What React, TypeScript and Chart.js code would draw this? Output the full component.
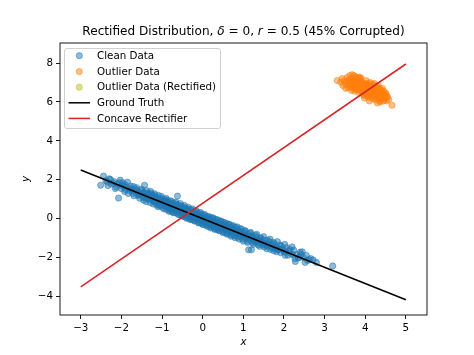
import React, { useEffect, useRef } from 'react';
import { Chart, registerables } from 'chart.js';

Chart.register(...registerables);

// ---------- data ----------
const cleanData: number[][] = [
  [-2.51, 1.72], [-2.44, 2.19], [-2.38, 1.95], [-2.30, 2.05], [-2.25, 1.78], [-2.20, 1.82], [-2.18, 1.90],
  [-2.12, 1.62], [-2.07, 1.06], [-2.05, 1.85], [-2.00, 1.55], [-1.98, 1.68], [-1.95, 1.72], [-1.92, 1.40],
  [-1.88, 1.60], [-1.85, 1.88], [-1.80, 1.45], [-1.76, 1.52], [-1.74, 1.45], [-1.72, 1.30], [-1.70, 1.65],
  [-1.66, 1.38], [-1.62, 1.48], [-1.60, 1.20], [-1.58, 1.30], [-1.57, 1.35], [-1.53, 1.28], [-1.50, 1.45],
  [-1.48, 1.22], [-1.47, 1.10], [-1.45, 0.95], [-1.43, 1.72], [-1.42, 1.25], [-1.40, 1.05], [-1.38, 1.45],
  [-1.37, 1.18], [-1.35, 1.32], [-1.34, 1.10], [-1.32, 0.98], [-1.30, 1.15], [-1.28, 1.40], [-1.27, 1.08],
  [-1.25, 1.22], [-1.24, 1.02], [-1.22, 0.92], [-1.20, 1.05], [-1.18, 0.85], [-1.18, 1.28], [-1.15, 1.12],
  [-1.14, 0.98], [-1.12, 0.95], [-1.10, 0.78], [-1.10, 0.62], [-1.08, 1.02], [-1.05, 0.88], [-1.04, 0.86],
  [-1.03, 0.70], [-1.02, 1.15], [-1.00, 0.95], [-0.98, 0.82], [-0.97, 0.80], [-0.96, 0.68], [-0.95, 0.50],
  [-0.94, 0.90], [-0.92, 0.75], [-0.91, 0.78], [-0.90, 0.60], [-0.90, 1.05], [-0.88, 0.85], [-0.86, 0.72],
  [-0.85, 0.70], [-0.84, 0.55], [-0.83, 0.38], [-0.82, 0.80], [-0.80, 0.66], [-0.79, 0.62], [-0.78, 0.50],
  [-0.78, 0.92], [-0.76, 0.75], [-0.74, 0.60], [-0.73, 0.65], [-0.72, 0.48], [-0.72, 0.30], [-0.70, 0.68],
  [-0.68, 0.55], [-0.67, 0.52], [-0.66, 0.40], [-0.66, 0.85], [-0.64, 0.62], [-0.62, 1.16], [-0.61, 0.48],
  [-0.60, 0.50], [-0.60, 0.22], [-0.58, 0.38], [-0.57, 0.50], [-0.56, 0.56], [-0.55, 0.78], [-0.54, 0.42],
  [-0.52, 0.30], [-0.51, 0.40], [-0.50, 0.52], [-0.50, 0.15], [-0.48, 0.40], [-0.47, 0.38], [-0.46, 0.25],
  [-0.45, 0.68], [-0.44, 0.45], [-0.43, 0.35], [-0.42, 0.32], [-0.40, 0.20], [-0.40, 0.02], [-0.38, 0.42],
  [-0.37, 0.32], [-0.36, 0.28], [-0.35, 0.58], [-0.34, 0.15], [-0.33, 0.25], [-0.32, 0.35], [-0.30, 0.22],
  [-0.30, -0.05], [-0.28, 0.10], [-0.27, 0.20], [-0.26, 0.30], [-0.25, 0.50], [-0.24, 0.18], [-0.23, 0.22],
  [-0.22, 0.05], [-0.20, 0.25], [-0.20, -0.12], [-0.18, 0.12], [-0.17, 0.16], [-0.16, 0.00], [-0.15, 0.40],
  [-0.14, 0.20], [-0.13, 0.10], [-0.12, 0.08], [-0.10, -0.05], [-0.10, -0.22], [-0.08, 0.15], [-0.07, 0.05],
  [-0.06, 0.02], [-0.05, 0.32], [-0.04, -0.10], [-0.03, 0.02], [-0.02, 0.10], [0.00, -0.02], [0.00, -0.30],
  [0.02, -0.15], [0.03, -0.02], [0.04, 0.05], [0.05, 0.22], [0.06, -0.08], [0.07, -0.05], [0.08, -0.20],
  [0.10, 0.00], [0.10, -0.38], [0.12, -0.12], [0.13, -0.10], [0.14, -0.25], [0.15, 0.12], [0.16, -0.05],
  [0.17, -0.15], [0.18, -0.18], [0.20, -0.30], [0.20, -0.48], [0.22, -0.10], [0.23, -0.18], [0.24, -0.22],
  [0.25, 0.05], [0.26, -0.35], [0.27, -0.22], [0.28, -0.15], [0.30, -0.28], [0.30, -0.55], [0.32, -0.40],
  [0.33, -0.28], [0.34, -0.20], [0.35, -0.05], [0.36, -0.32], [0.37, -0.30], [0.38, -0.45], [0.40, -0.25],
  [0.40, -0.62], [0.42, -0.38], [0.43, -0.35], [0.44, -0.50], [0.45, -0.12], [0.46, -0.30], [0.47, -0.40],
  [0.48, -0.42], [0.50, -0.55], [0.50, -0.72], [0.52, -0.35], [0.53, -0.45], [0.55, -0.48], [0.55, -0.22],
  [0.57, -0.48], [0.58, -0.60], [0.60, -0.40], [0.60, -0.80], [0.62, -0.52], [0.63, -0.52], [0.65, -0.28],
  [0.66, -0.68], [0.67, -0.55], [0.68, -0.45], [0.70, -0.90], [0.71, -0.60], [0.73, -0.62], [0.74, -0.75],
  [0.75, -0.35], [0.76, -0.52], [0.78, -0.65], [0.79, -0.66], [0.80, -0.98], [0.82, -0.80], [0.83, -0.70],
  [0.85, -0.58], [0.85, -0.42], [0.88, -0.72], [0.89, -0.75], [0.90, -1.05], [0.91, -0.88], [0.94, -0.65],
  [0.95, -0.52], [0.96, -0.82], [0.97, -0.80], [1.00, -0.95], [1.00, -1.15], [1.02, -0.85], [1.03, -0.72],
  [1.05, -0.62], [1.06, -0.88], [1.08, -0.92], [1.09, -1.02], [1.10, -1.22], [1.12, -0.80], [1.13, -1.60],
  [1.15, -0.95], [1.16, -0.98], [1.18, -1.10], [1.18, -0.70], [1.20, -1.60], [1.22, -0.88], [1.24, -1.05],
  [1.25, -1.05], [1.25, -1.32], [1.28, -1.18], [1.32, -0.95], [1.33, -0.80], [1.34, -1.12], [1.35, -1.12],
  [1.38, -1.25], [1.40, -1.42], [1.42, -1.02], [1.44, -1.20], [1.45, -1.20], [1.48, -1.35], [1.50, -0.92],
  [1.52, -1.10], [1.54, -1.30], [1.56, -1.28], [1.58, -1.55], [1.60, -1.42], [1.62, -1.35], [1.64, -1.18],
  [1.66, -1.05], [1.68, -1.38], [1.72, -1.52], [1.75, -1.65], [1.76, -1.28], [1.78, -1.50], [1.80, -1.45],
  [1.84, -1.18], [1.85, -1.60], [1.88, -1.55], [1.90, -1.35], [1.92, -1.75], [1.95, -1.55], [2.00, -1.70],
  [2.02, -1.32], [2.05, -1.72], [2.06, -1.48], [2.10, -1.88], [2.12, -1.65], [2.18, -1.80], [2.20, -1.45],
  [2.22, -1.85], [2.24, -1.62], [2.28, -2.20], [2.32, -1.85], [2.35, -2.02], [2.38, -1.98], [2.40, -1.72],
  [2.45, -1.70], [2.48, -2.00], [2.55, -1.88], [2.58, -2.15], [2.62, -2.10], [2.72, -2.12], [2.80, -2.25],
  [3.20, -2.43],
  [-2.33, 1.70], [-2.27, 2.02], [-2.15, 1.55], [-2.03, 1.98], [-1.97, 1.85], [-1.91, 1.75], [-1.83, 1.30],
  [-1.77, 1.68], [-1.69, 1.18], [-1.63, 1.60], [-1.55, 1.05], [-1.51, 1.52], [-1.44, 1.35], [-1.39, 0.88],
  [-1.33, 1.28], [-1.29, 0.82], [-1.26, 1.30], [-1.21, 0.75], [-1.17, 1.18], [-1.13, 0.72], [-1.09, 1.20],
  [-1.06, 0.66], [-1.01, 1.05], [-0.99, 0.58], [-0.93, 0.98], [-0.89, 0.48], [-0.87, 0.95], [-0.81, 0.42],
  [-0.77, 0.88], [-0.75, 0.36], [-0.71, 0.80], [-0.69, 0.32], [-0.65, 0.75], [-0.63, 0.28], [-0.59, 0.70],
  [-0.55, 0.18], [-0.53, 0.65], [-0.49, 0.12], [-0.47, 0.60], [-0.43, 0.10], [-0.41, 0.55], [-0.37, 0.05],
  [-0.35, 0.48], [-0.31, 0.00], [-0.29, 0.45], [-0.25, -0.05], [-0.21, 0.40], [-0.19, -0.10], [-0.15, 0.32],
  [-0.11, -0.18], [-0.09, 0.28], [-0.05, -0.22], [-0.01, 0.22], [0.01, -0.28], [0.05, 0.15], [0.09, -0.32],
  [0.11, 0.10], [0.15, -0.40], [0.19, 0.05], [0.21, -0.42], [0.25, 0.02], [0.29, -0.50], [0.31, -0.02],
  [0.35, -0.55], [0.39, -0.08], [0.41, -0.60], [0.45, -0.15], [0.49, -0.65], [0.51, -0.18], [0.55, -0.70],
  [0.59, -0.25], [0.61, -0.75], [0.65, -0.30], [0.69, -0.82], [0.72, -0.38], [0.77, -0.88], [0.81, -0.45],
  [0.86, -0.95], [0.92, -0.52], [0.98, -1.05], [1.04, -0.62], [1.11, -1.15], [1.17, -0.75], [1.23, -1.25],
  [1.30, -0.85], [1.37, -1.35], [1.43, -0.98], [1.51, -1.45], [1.59, -1.10], [1.67, -1.58], [1.74, -1.22],
  [1.82, -1.70], [1.93, -1.40], [2.03, -1.88], [2.15, -1.58], [2.27, -2.05], [2.42, -1.85], [2.52, -2.25],
  [2.66, -2.05],
  [-0.96, 0.85], [-0.86, 0.65], [-0.74, 0.68], [-0.64, 0.48], [-0.56, 0.52], [-0.44, 0.30], [-0.36, 0.35],
  [-0.24, 0.15], [-0.16, 0.20], [-0.06, 0.00], [0.04, -0.10], [0.12, 0.00], [0.22, -0.25], [0.32, -0.22],
  [0.42, -0.42], [0.52, -0.38], [0.62, -0.58], [0.72, -0.52], [0.84, -0.75], [0.94, -0.72], [1.06, -0.95],
  [1.19, -0.92], [1.29, -1.15], [1.41, -1.12], [1.55, -1.35], [1.69, -1.32], [1.83, -1.58], [1.98, -1.60],
  [-1.16, 0.90], [-1.26, 1.12], [-1.36, 1.05], [-1.46, 1.30], [-1.56, 1.22], [-1.66, 1.50], [-1.79, 1.55],
  [-1.90, 1.50], [-2.10, 1.78], [-2.35, 1.88],
];

const outlierData: number[][] = [
  [3.31, 7.10], [3.40, 7.02], [3.43, 7.20], [3.45, 6.85], [3.50, 6.96], [3.52, 6.70], [3.55, 7.25],
  [3.57, 7.12], [3.58, 6.72], [3.60, 7.05], [3.62, 6.85], [3.62, 7.35], [3.65, 7.18], [3.66, 6.60],
  [3.68, 7.40], [3.70, 6.95], [3.70, 6.72], [3.72, 7.12], [3.73, 6.85], [3.74, 6.55], [3.75, 6.78],
  [3.76, 7.30], [3.78, 7.02], [3.80, 6.88], [3.80, 6.62], [3.82, 7.25], [3.83, 6.92], [3.84, 6.70],
  [3.85, 6.48], [3.86, 6.95], [3.87, 6.58], [3.88, 6.82], [3.88, 7.15], [3.90, 7.05], [3.90, 7.22],
  [3.92, 6.62], [3.92, 6.50], [3.94, 6.88], [3.95, 6.40], [3.95, 6.65], [3.96, 6.75], [3.98, 6.95],
  [3.98, 6.20], [4.00, 6.55], [4.00, 6.92], [4.02, 6.80], [4.02, 7.10], [4.03, 6.45], [4.04, 6.68],
  [4.05, 6.30], [4.05, 6.58], [4.06, 6.90], [4.08, 6.48], [4.08, 6.85], [4.10, 6.72], [4.10, 6.05],
  [4.12, 6.60], [4.12, 7.00], [4.13, 6.35], [4.14, 6.82], [4.15, 6.20], [4.15, 6.48], [4.16, 6.42],
  [4.18, 6.65], [4.18, 6.38], [4.20, 6.52], [4.20, 6.85], [4.22, 6.75], [4.22, 6.95], [4.23, 6.60],
  [4.24, 6.35], [4.25, 6.12], [4.25, 6.45], [4.26, 6.58], [4.28, 6.45], [4.28, 6.22], [4.30, 6.65],
  [4.30, 5.95], [4.32, 6.28], [4.32, 6.85], [4.33, 6.40], [4.34, 6.50], [4.35, 6.05], [4.35, 6.70],
  [4.36, 6.38], [4.38, 6.55], [4.38, 6.15], [4.40, 6.22], [4.40, 6.48], [4.42, 6.42], [4.42, 6.70],
  [4.45, 6.30], [4.45, 6.05], [4.46, 6.55], [4.48, 6.15], [4.50, 6.38], [4.52, 6.05], [4.55, 6.25],
  [4.58, 6.12], [4.66, 5.83],
  [3.60, 6.95], [3.64, 7.08], [3.67, 6.90], [3.69, 7.22], [3.71, 6.82], [3.73, 7.05], [3.76, 6.92],
  [3.77, 7.15], [3.79, 6.75], [3.81, 6.98], [3.82, 6.80], [3.84, 7.10], [3.85, 6.88], [3.87, 6.72],
  [3.89, 6.95], [3.90, 6.78], [3.91, 6.60], [3.93, 6.98], [3.94, 6.70], [3.96, 6.55], [3.97, 6.85],
  [3.99, 6.68], [4.00, 6.78], [4.01, 6.45], [4.03, 6.62], [4.04, 6.88], [4.06, 6.52], [4.07, 6.75],
  [4.09, 6.62], [4.10, 6.40], [4.11, 6.85], [4.13, 6.55], [4.14, 6.70], [4.16, 6.58], [4.17, 6.30],
  [4.19, 6.75], [4.21, 6.45], [4.22, 6.62], [4.24, 6.52], [4.26, 6.25], [4.27, 6.70], [4.29, 6.40],
  [4.31, 6.55], [4.33, 6.18], [4.34, 6.62], [4.36, 6.30], [4.37, 6.48], [4.39, 6.35], [4.41, 6.58],
  [4.43, 6.20], [4.44, 6.45], [4.47, 6.35], [4.49, 6.22], [4.51, 6.45], [4.53, 6.30], [3.55, 6.88],
  [3.63, 6.78], [3.68, 7.02], [3.75, 6.65], [3.92, 6.85], [4.08, 6.95], [4.18, 6.90], [4.28, 6.80],
  [3.97, 6.35], [4.07, 6.25], [4.20, 6.15], [4.37, 6.00], [3.86, 7.28], [3.72, 7.35], [3.48, 7.10],
];

const rectifiedData: number[][] = [];

const groundTruthX = [-3, 5];
const groundTruthY = [2.5, -4.17];
const rectifierX = [-3, 5];
const rectifierY = [-3.5, 7.95];

const xTicks = [-3, -2, -1, 0, 1, 2, 3, 4, 5];
const yTicks = [-4, -2, 0, 2, 4, 6, 8];

const legendLabels = ['Clean Data', 'Outlier Data', 'Outlier Data (Rectified)', 'Ground Truth', 'Concave Rectifier'];

// ---------- styles ----------
const FONT = "'DejaVu Sans', sans-serif";
const BLUE = 'rgba(31,119,180,0.5)';
const ORANGE = 'rgba(255,127,14,0.5)';
const OLIVE = 'rgba(188,189,34,0.5)';
const RED = '#d62728';

const fmt = (v: number) => (v < 0 ? '\u2212' + Math.abs(v) : String(v));

const decor = {
  id: 'decor',
  afterDraw(chart: any) {
    const { ctx, chartArea: a } = chart;
    ctx.save();
    // spines
    ctx.strokeStyle = '#000';
    ctx.lineWidth = 0.9;
    ctx.strokeRect(a.left, a.top, a.right - a.left, a.bottom - a.top);

    // title with italic math symbols
    const size = 12.1;
    const segs: [string, boolean][] = [
      ['Rectified Distribution, ', false],
      ['\u03b4', true],
      [' = 0, ', false],
      ['r', true],
      [' = 0.5 (45% Corrupted)', false],
    ];
    let total = 0;
    const widths = segs.map(([t, it]) => {
      ctx.font = `${it ? 'italic ' : ''}${size}px ${FONT}`;
      const w = ctx.measureText(t).width;
      total += w;
      return w;
    });
    let tx = (a.left + a.right) / 2 - total / 2;
    ctx.fillStyle = '#000';
    ctx.textBaseline = 'middle';
    ctx.textAlign = 'left';
    segs.forEach(([t, it], i) => {
      ctx.font = `${it ? 'italic ' : ''}${size}px ${FONT}`;
      ctx.fillText(t, tx, 31.5);
      tx += widths[i];
    });

    // axis labels
    ctx.font = `italic 10.3px ${FONT}`;
    ctx.textAlign = 'center';
    ctx.fillText('x', (a.left + a.right) / 2, 342);
    ctx.save();
    ctx.translate(26.5, (a.top + a.bottom) / 2);
    ctx.rotate(-Math.PI / 2);
    ctx.fillText('y', 0, 0);
    ctx.restore();

    // legend
    const lx = 64.5, ly = 48.5, lw = 156, lh = 80, r = 2.5;
    ctx.beginPath();
    ctx.moveTo(lx + r, ly);
    ctx.lineTo(lx + lw - r, ly);
    ctx.quadraticCurveTo(lx + lw, ly, lx + lw, ly + r);
    ctx.lineTo(lx + lw, ly + lh - r);
    ctx.quadraticCurveTo(lx + lw, ly + lh, lx + lw - r, ly + lh);
    ctx.lineTo(lx + r, ly + lh);
    ctx.quadraticCurveTo(lx, ly + lh, lx, ly + lh - r);
    ctx.lineTo(lx, ly + r);
    ctx.quadraticCurveTo(lx, ly, lx + r, ly);
    ctx.closePath();
    ctx.fillStyle = 'rgba(255,255,255,0.8)';
    ctx.fill();
    ctx.strokeStyle = '#d0d0d0';
    ctx.lineWidth = 1;
    ctx.stroke();

    const rows = [55.7, 71.6, 87.2, 102.8, 118.4];
    const markers = [BLUE, ORANGE, OLIVE];
    ctx.font = `10.3px ${FONT}`;
    ctx.textAlign = 'left';
    ctx.textBaseline = 'middle';
    legendLabels.forEach((lab, i) => {
      const y = rows[i];
      if (i < 3) {
        ctx.beginPath();
        ctx.arc(79.3, y, 3.1, 0, Math.PI * 2);
        ctx.fillStyle = markers[i];
        ctx.fill();
        ctx.strokeStyle = markers[i];
        ctx.lineWidth = 1;
        ctx.stroke();
      } else {
        ctx.beginPath();
        ctx.moveTo(68.5, y);
        ctx.lineTo(90, y);
        ctx.strokeStyle = i === 3 ? '#000' : RED;
        ctx.lineWidth = 1.5;
        ctx.stroke();
      }
      ctx.fillStyle = '#000';
      ctx.fillText(lab, 97, y + 0.5);
    });
    ctx.restore();
  },
};

export default function App() {
  const ref = useRef<HTMLCanvasElement>(null);

  useEffect(() => {
    document.body.style.margin = '0';
    const canvas = ref.current;
    if (!canvas) return;
    const pts = (arr: number[][]) => arr.map(([x, y]) => ({ x, y }));
    const line = (xs: number[], ys: number[]) => xs.map((x, i) => ({ x, y: ys[i] }));

    const chart = new Chart(canvas, {
      type: 'scatter',
      data: {
        datasets: [
          {
            label: legendLabels[0],
            data: pts(cleanData),
            backgroundColor: BLUE,
            borderColor: BLUE,
            borderWidth: 1,
            pointRadius: 3.1,
            order: 5,
          },
          {
            label: legendLabels[1],
            data: pts(outlierData),
            backgroundColor: ORANGE,
            borderColor: ORANGE,
            borderWidth: 1,
            pointRadius: 3.1,
            order: 4,
          },
          {
            label: legendLabels[2],
            data: pts(rectifiedData),
            backgroundColor: OLIVE,
            borderColor: OLIVE,
            borderWidth: 1,
            pointRadius: 3.1,
            order: 3,
          },
          {
            label: legendLabels[3],
            data: line(groundTruthX, groundTruthY),
            showLine: true,
            borderColor: '#000',
            borderWidth: 1.55,
            pointRadius: 0,
            order: 2,
          },
          {
            label: legendLabels[4],
            data: line(rectifierX, rectifierY),
            showLine: true,
            borderColor: RED,
            borderWidth: 1.55,
            pointRadius: 0,
            order: 1,
          },
        ],
      },
      options: {
        animation: false,
        responsive: false,
        devicePixelRatio: 1,
        layout: { padding: { top: 43, right: 47, left: 0, bottom: 0 } },
        plugins: {
          legend: { display: false },
          title: { display: false },
          tooltip: { enabled: false },
        },
        scales: {
          x: {
            type: 'linear',
            min: -3.51,
            max: 5.52,
            afterFit: (s: any) => { s.height = 40; },
            afterBuildTicks: (s: any) => { s.ticks = xTicks.map((v) => ({ value: v })); },
            grid: { display: true, drawOnChartArea: false, drawTicks: true, tickLength: 4, tickColor: '#000', tickWidth: 0.9 },
            border: { display: false },
            ticks: {
              padding: 3,
              color: '#000',
              font: { family: FONT, size: 10.3 },
              maxRotation: 0,
              autoSkip: false,
              callback: (v: any) => fmt(Number(v)),
            },
          },
          y: {
            type: 'linear',
            min: -4.95,
            max: 9.03,
            afterFit: (s: any) => { s.width = 60; },
            afterBuildTicks: (s: any) => { s.ticks = yTicks.map((v) => ({ value: v })); },
            grid: { display: true, drawOnChartArea: false, drawTicks: true, tickLength: 4, tickColor: '#000', tickWidth: 0.9 },
            border: { display: false },
            ticks: {
              padding: 3,
              color: '#000',
              font: { family: FONT, size: 10.3 },
              autoSkip: false,
              callback: (v: any) => fmt(Number(v)),
            },
          },
        },
      },
      plugins: [decor],
    } as any);

    return () => chart.destroy();
  }, []);

  return (
    <div style={{ width: 474, height: 355, background: '#fff' }}>
      <canvas ref={ref} width={474} height={355} style={{ display: 'block' }} />
    </div>
  );
}
